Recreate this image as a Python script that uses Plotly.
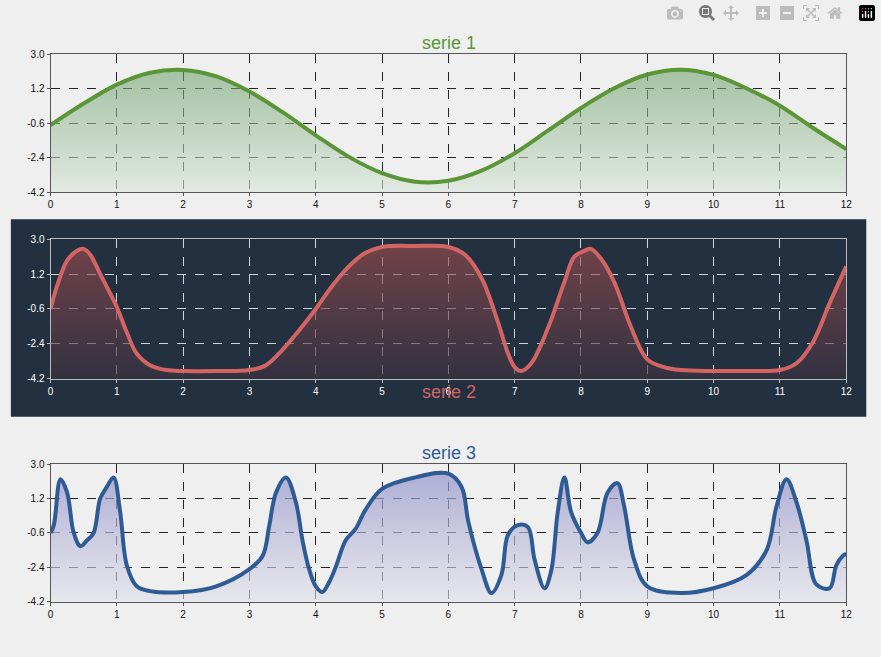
import plotly.graph_objects as go

x1 = [0,0.5,1,1.5,2,2.5,3,3.5,4,4.5,5,5.5,6,6.5,7,7.5,8,8.5,9,9.5,10,10.5,11,11.5,12]
y1 = [-0.7,0.43,1.42,2.04,2.19,1.85,1.06,-0.02,-1.23,-2.36,-3.21,-3.66,-3.61,-3.08,-2.17,-0.99,0.2,1.23,1.95,2.2,1.93,1.22,0.32,-0.85,-1.95]

x2 = [0,0.1,0.25,0.4,0.5,0.6,0.75,0.9,1.0,1.15,1.3,1.5,1.75,2,2.5,3,3.25,3.5,3.75,4,4.25,4.5,4.75,5,5.5,6,6.25,6.5,6.75,6.9,7.0,7.1,7.25,7.5,7.75,7.9,8.05,8.15,8.3,8.5,8.75,9,9.25,9.5,10,10.5,11,11.25,11.5,11.75,12]
y2 = [-0.6,0.6,1.9,2.4,2.5,2.2,1.2,0.2,-0.5,-1.8,-2.9,-3.5,-3.75,-3.8,-3.8,-3.75,-3.5,-2.7,-1.7,-0.6,0.6,1.6,2.3,2.6,2.65,2.6,2.2,1.0,-1.3,-2.9,-3.6,-3.8,-3.4,-1.6,0.8,2.1,2.4,2.5,2.0,0.8,-1.5,-3.2,-3.6,-3.75,-3.8,-3.8,-3.75,-3.4,-2.3,-0.3,1.6]

x3 = [0,0.05,0.15,0.25,0.35,0.45,0.55,0.65,0.75,0.85,0.95,1.05,1.15,1.3,1.5,2,2.5,3,3.2,3.3,3.4,3.55,3.7,3.8,3.9,4.0,4.1,4.2,4.3,4.45,4.6,4.75,5,5.5,6,6.2,6.3,6.5,6.65,6.8,6.9,7.05,7.2,7.3,7.45,7.55,7.65,7.75,7.85,8.0,8.1,8.25,8.4,8.55,8.65,8.8,9,9.5,10,10.5,10.8,10.95,11.1,11.25,11.4,11.55,11.75,11.85,11.95,12]
y3 = [-0.6,-0.2,2.2,1.5,-0.6,-1.3,-1.0,-0.6,1.2,1.8,2.3,0.5,-2.3,-3.4,-3.65,-3.7,-3.4,-2.5,-1.8,-0.2,1.5,2.3,1.0,-1.0,-2.5,-3.4,-3.7,-3.2,-2.4,-1.0,-0.4,0.6,1.7,2.3,2.5,1.8,0.0,-2.5,-3.75,-2.8,-0.7,-0.2,-0.3,-2.0,-3.5,-2.6,0.5,2.3,0.5,-0.6,-1.1,-0.6,1.5,2.0,0.8,-2.0,-3.4,-3.75,-3.5,-2.8,-1.5,0.8,2.2,1.0,-1.0,-3.3,-3.5,-2.3,-1.8,-1.7]

yticks = [-4.2,-2.4,-0.6,1.2,3.0]
ytext = ["-4.2","-2.4","-0.6","1.2","3.0"]
BASE = -4.2

fig = go.Figure()
fig.add_shape(type="rect", xref="paper", yref="paper", x0=0.009, x1=0.990, y0=0.364, y1=0.670,
              fillcolor="#22303f", line_width=0, layer="below")

series = [
    (x1, y1, "#5a9638", "rgba(90,150,90,0.55)", "rgba(220,230,220,0.6)", "x", "y"),
    (x2, y2, "#d26464", "rgba(170,80,80,0.6)", "rgba(60,50,65,0.6)", "x2", "y2"),
    (x3, y3, "#2f5b94", "rgba(140,140,200,0.7)", "rgba(225,225,235,0.6)", "x3", "y3"),
]
for xs, ys, lc, ftop, fbot, xa, ya in series:
    fig.add_trace(go.Scatter(x=[xs[0], xs[-1]], y=[BASE, BASE], mode="lines", line=dict(width=0),
                             xaxis=xa, yaxis=ya, showlegend=False, hoverinfo="skip"))
    fig.add_trace(go.Scatter(x=xs, y=ys, mode="lines", line=dict(color=lc, width=4, shape="spline"),
                             fill="tonexty",
                             fillgradient=dict(type="vertical", start=BASE, stop=3.0,
                                               colorscale=[[0, fbot], [1, ftop]]),
                             xaxis=xa, yaxis=ya, showlegend=False))

doms = [(0.712, 0.925), (0.423, 0.639), (0.078, 0.291)]
for i, (d, dark) in enumerate(zip(doms, [False, True, False])):
    sfx = "" if i == 0 else str(i + 1)
    gc = "rgba(255,255,255,0.8)" if dark else "#222"
    fc = "white" if dark else "#111"
    lc = "#bbbbbb" if dark else "#555"
    fig.layout["xaxis" + sfx] = dict(domain=[0.0545, 0.967], range=[0, 12], anchor="y" + sfx,
        tickvals=list(range(13)), showgrid=True, gridcolor=gc, griddash="dash", gridwidth=1,
        showline=True, linecolor=lc, mirror=True, zeroline=False,
        tickfont=dict(size=10, color=fc), ticks="outside", ticklen=3, tickcolor=lc)
    fig.layout["yaxis" + sfx] = dict(domain=list(d), range=[-4.2, 3.0], anchor="x" + sfx,
        tickvals=yticks, ticktext=ytext, showgrid=True, gridcolor=gc, griddash="dash",
        showline=True, linecolor=lc, mirror=True, zeroline=False,
        tickfont=dict(size=10, color=fc), ticks="outside", ticklen=3, tickcolor=lc)

ann = [("serie 1", 0.942, "#5a9638"), ("serie 2", 0.403, "#d26464"), ("serie 3", 0.308, "#2f5b94")]
for t, yy, c in ann:
    fig.add_annotation(text=t, x=0.511, y=yy, xref="paper", yref="paper", showarrow=False,
                       font=dict(size=18, color=c, family="Liberation Sans"), yanchor="middle")

fig.update_layout(width=881, height=657, margin=dict(l=0, r=0, t=0, b=0),
                  paper_bgcolor="#efefef", plot_bgcolor="rgba(0,0,0,0)",
                  font=dict(family="Liberation Sans"))
fig.write_html("out.html",
               post_script="document.body.style.margin='0';document.body.style.overflow='hidden';")
